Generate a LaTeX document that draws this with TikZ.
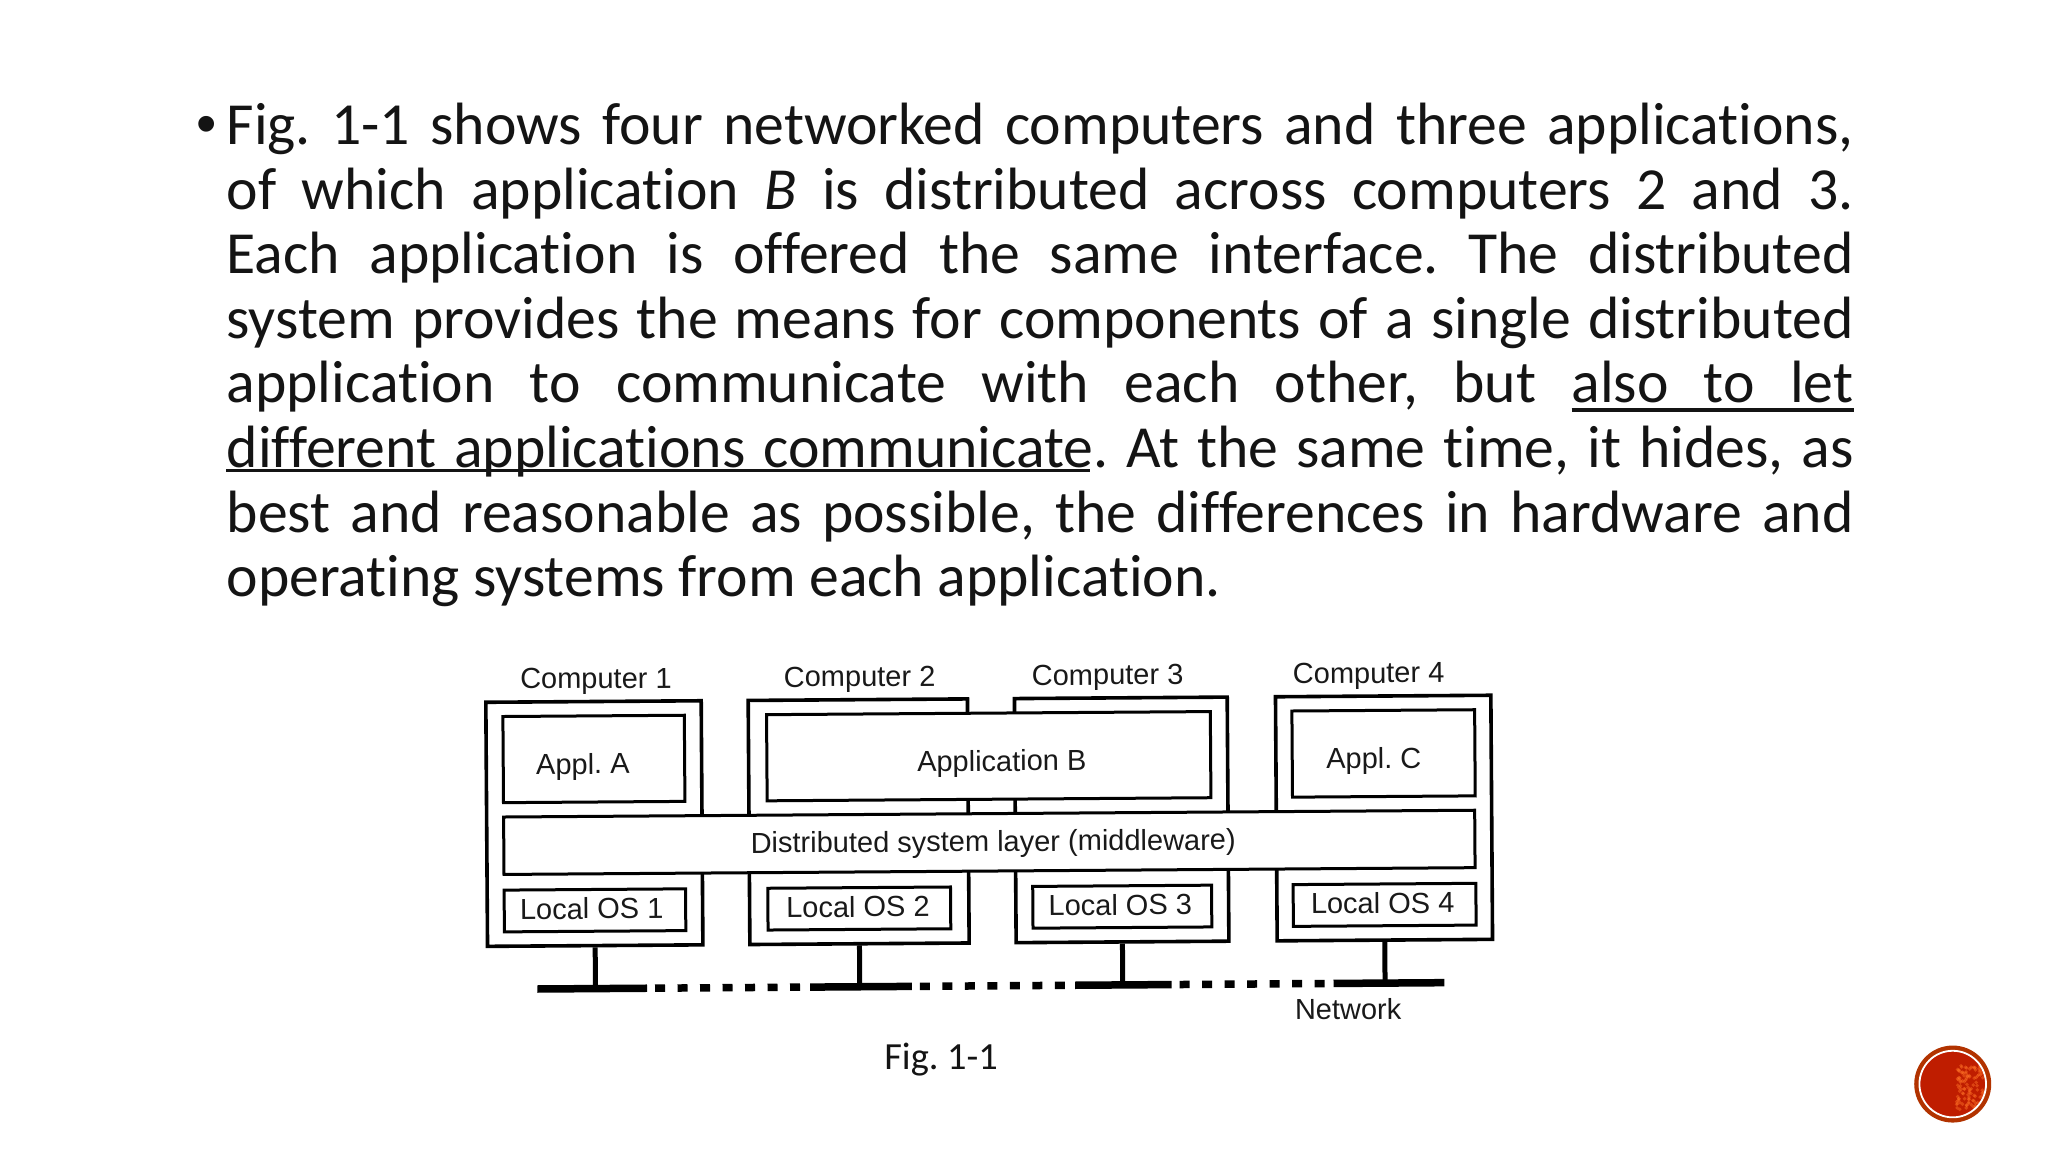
\documentclass[tikz,border=0pt]{standalone}
\usepackage{fontspec}
\setmainfont[Ligatures=NoCommon]{Carlito}
\newfontfamily\figfont{Liberation Sans}
\def\uu{1.3053pt}
\tikzset{
  x=\uu, y=\uu,
  body/.style={inner sep=0pt, anchor=base west, text=black!92, font=\fontsize{59.7}{65}\selectfont},
  uline/.style={line width=3.4pt, black!92},
  comp/.style={draw, line width=3.6pt, fill=white, inner sep=0pt},
  inner box/.style={draw, line width=3pt, fill=white, inner sep=0pt},
  lbl/.style={inner sep=0pt, anchor=base, text=black!90, font=\figfont\fontsize{29}{32}\selectfont},
  stem/.style={line width=5pt},
  netseg/.style={line width=7.5pt},
  netdots/.style={line width=7.5pt, dash pattern=on 10pt off 12.5pt},
}
\newlength{\bodyw}
\setlength{\bodyw}{1627pt}
\begin{document}
\frenchspacing
\begin{tikzpicture}
\useasboundingbox (0,0) rectangle (1569,-882.55);
\fill[white] (0,0) rectangle (1569,-882.55);

% slide text
\node[body] (bullet) at (150.5,-110) {\fontsize{58}{62}\selectfont\figfont •};
\node[body] (l1) at (173.5,-110.5) {\makebox[\bodyw][s]{Fig. 1-1 shows four networked computers and three applications,}};
\node[body] (l2) at (173.5,-160.5) {\makebox[\bodyw][s]{of which application \textit{B} is distributed across computers 2 and 3.}};
\node[body] (l3) at (173.5,-209.5) {\makebox[\bodyw][s]{Each application is offered the same interface. The distributed}};
\node[body] (l4) at (173.5,-259) {\makebox[\bodyw][s]{system provides the means for components of a single distributed}};
\node[body] (l5) at (173.5,-308.5) {\makebox[\bodyw][s]{application to communicate with each other, but also to let}};
\node[body] (l6) at (173.5,-358) {\makebox[\bodyw][s]{different applications communicate. At the same time, it hides, as}};
\node[body] (l7) at (173.5,-408) {\makebox[\bodyw][s]{best and reasonable as possible, the differences in hardware and}};
\node[body] (l8) at (173.5,-457) {operating systems from each application.};

% underlines
\coordinate (u5a) at (1204,-314);
\coordinate (u5b) at (1420,-314);
\coordinate (u6a) at (173.5,-360.5);
\coordinate (u6b) at (835,-360.5);
\draw[uline] (u5a) -- (u5b);
\draw[uline] (u6a) -- (u6b);

% the scanned figure sits slightly tilted
\begin{scope}[shift={(1.5,-1)}, rotate around={0.4:(372,-724)}, transform shape]
  % computers
  \node[comp, minimum width=165*\uu, minimum height=187*\uu] (c1) at (454.5,-630.5) {};
  \node[comp, minimum width=168*\uu, minimum height=187*\uu] (c2) at (657,-630.5) {};
  \node[comp, minimum width=163*\uu, minimum height=187*\uu] (c3) at (858.5,-630.5) {};
  \node[comp, minimum width=165*\uu, minimum height=187*\uu] (c4) at (1059.5,-630.5) {};

  % applications
  \node[inner box, minimum width=139*\uu, minimum height=66*\uu] (appa) at (454.5,-581) {};
  \node[inner box, minimum width=340*\uu, minimum height=66*\uu] (appb) at (757,-581) {};
  \node[inner box, minimum width=140*\uu, minimum height=66*\uu] (appc) at (1059.5,-581) {};

  % middleware
  \node[inner box, minimum width=744*\uu, minimum height=44*\uu] (mw) at (757,-647) {};

  % local OS
  \node[inner box, minimum width=139*\uu, minimum height=32*\uu] (os1) at (454.5,-697) {};
  \node[inner box, minimum width=140*\uu, minimum height=32*\uu] (os2) at (657,-697) {};
  \node[inner box, minimum width=137*\uu, minimum height=32*\uu] (os3) at (858.5,-697) {};
  \node[inner box, minimum width=140*\uu, minimum height=32*\uu] (os4) at (1059.5,-697) {};

  % labels
  \node[lbl] (t1) at (456.5,-527) {Computer 1};
  \node[lbl] (t2) at (658.5,-527) {Computer 2};
  \node[lbl] (t3) at (848.5,-527) {Computer 3};
  \node[lbl] (t4) at (1048.5,-527) {Computer 4};
  \node[lbl] (ta) at (446,-592.5) {Appl. A};
  \node[lbl] (tb) at (767,-592.5) {Application B};
  \node[lbl] (tc) at (1052,-592.5) {Appl. C};
  \node[lbl] (tm) at (760,-654) {Distributed system layer (middleware)};
  \node[lbl] (o1) at (452,-703.5) {Local OS 1};
  \node[lbl] (o2) at (656,-703.5) {Local OS 2};
  \node[lbl] (o3) at (857,-703.5) {Local OS 3};
  \node[lbl] (o4) at (1058,-703.5) {Local OS 4};
  \node[lbl] (tn) at (1031,-784.5) {Network};

  % network
  \coordinate (n1) at (454.5,-757);
  \coordinate (n2) at (657,-757);
  \coordinate (n3) at (858.5,-757);
  \coordinate (n4) at (1059.5,-757);
  \coordinate (a1) at (410,-757);
  \coordinate (b1) at (494,-757);
  \coordinate (a2) at (619,-757);
  \coordinate (b2) at (697,-757);
  \coordinate (a3) at (822,-757);
  \coordinate (b3) at (896,-757);
  \coordinate (a4) at (1020,-757);
  \coordinate (b4) at (1105,-757);
  \draw[stem] (c1.south) -- (n1);
  \draw[stem] (c2.south) -- (n2);
  \draw[stem] (c3.south) -- (n3);
  \draw[stem] (c4.south) -- (n4);
  \draw[netseg] (a1) -- (b1);
  \draw[netseg] (a2) -- (b2);
  \draw[netseg] (a3) -- (b3);
  \draw[netseg] (a4) -- (b4);
  \draw[netdots] ([xshift=8pt]b1) -- (a2);
  \draw[netdots] ([xshift=8pt]b2) -- (a3);
  \draw[netdots] ([xshift=8pt]b3) -- (a4);
\end{scope}

% caption
\node[inner sep=0pt, anchor=base, text=black!92, font=\fontsize{38.4}{42}\selectfont] (cap) at (721,-819) {Fig. 1-1};

% round slide badge
\coordinate (badge) at (1496,-830.5);
\fill[red!50!black!60!orange] (badge) circle (29.5);
\begin{scope}
  \clip (badge) circle (25);
  \fill[red!70!orange!75!black] (badge) circle (25);
  \pgfmathsetseed{7}
  \foreach \k in {1,...,110} {
    \pgfmathsetmacro{\px}{1496+3+22*rnd}
    \pgfmathsetmacro{\py}{-830.5-20+34*rnd}
    \fill[orange!70!red!85, opacity=0.45] (\px,\py) circle (1.5);
  }
\end{scope}
\draw[white, line width=1.8pt] (badge) circle (25.5);
\end{tikzpicture}
\end{document}
